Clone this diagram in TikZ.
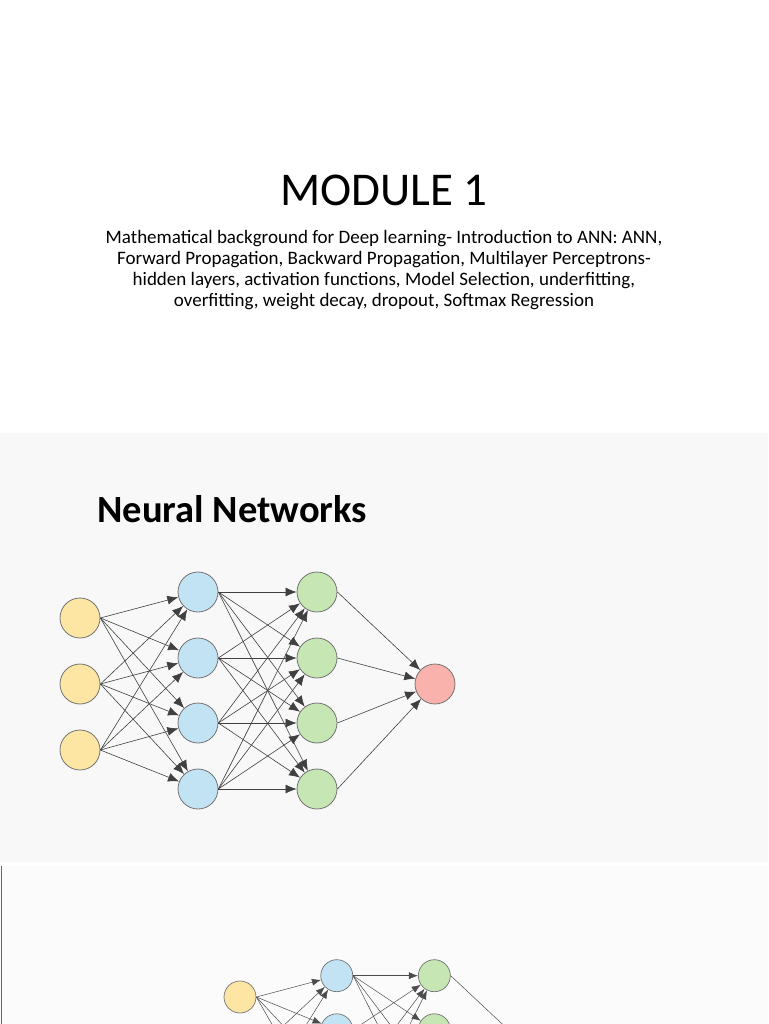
\documentclass[tikz,border=0pt]{standalone}
\usepackage{fontspec}
\setmainfont{Carlito}
\usetikzlibrary{arrows.meta}
\definecolor{inp}{HTML}{FDE6A3}
\definecolor{hid}{HTML}{C2E3F3}
\definecolor{hidb}{HTML}{C6E6B4}
\definecolor{outc}{HTML}{F9B3AC}
\definecolor{slidebg}{HTML}{F8F8F8}
\begin{document}
\begin{tikzpicture}[x=1pt,y=-1pt,
  neuron/.style={circle,draw=black!55,line width=0.8pt,minimum size=40pt,inner sep=0pt},
  conn/.style={draw=black!75,line width=0.6pt,-{Latex[length=11pt,width=9pt]},shorten >=0pt}]
\useasboundingbox (0,0) rectangle (768,1024);
\fill[white] (0,0) rectangle (768,1024);
\fill[slidebg] (0,433) rectangle (768,862);
\fill[slidebg!60!white] (0,866) rectangle (768,1024);
\draw[black!60,line width=1pt] (1,866) -- (1,1024);
\node[font=\fontsize{47}{56}\selectfont] (title) at (384,190) {MODULE 1};
\node[font=\fontsize{19}{21}\selectfont,align=center] (desc) at (384,270)
 {Mathematical background for Deep learning- Introduction to ANN: ANN,\\
  Forward Propagation, Backward Propagation, Multilayer Perceptrons-\\
  hidden layers, activation functions, Model Selection, underfitting,\\
  overfitting, weight decay, dropout, Softmax Regression};
\node[font=\bfseries\fontsize{38.5}{44}\selectfont,anchor=west] (nn) at (94,509) {Neural Networks};
% big network
\foreach \i/\y in {1/618,2/684,3/750} \node[neuron,fill=inp] (a\i) at (80,\y) {};
\foreach \i/\y in {1/592,2/658,3/723,4/789} {
  \node[neuron,fill=hid] (b\i) at (198,\y) {};
  \node[neuron,fill=hidb] (c\i) at (317,\y) {};}
\node[neuron,fill=outc] (d) at (435,684) {};
\foreach \i in {1,2,3} \foreach \j in {1,2,3,4} \draw[conn] (a\i.east) -- (b\j);
\foreach \i in {1,2,3,4} \foreach \j in {1,2,3,4} \draw[conn] (b\i.east) -- (c\j);
\foreach \i in {1,2,3,4} \draw[conn] (c\i.east) -- (d);
% partial small network
\begin{scope}
\clip (0,866) rectangle (768,1024);
\begin{scope}[shift={(240,997)},x=0.82pt,y=-0.82pt,
  sneuron/.style={circle,draw=black!55,line width=0.7pt,minimum size=32pt,inner sep=0pt},
  sconn/.style={draw=black!70,line width=0.5pt,-{Latex[length=9pt,width=7pt]}}]
\foreach \i/\y in {1/0,2/66,3/132} \node[sneuron,fill=inp] (p\i) at (0,\y) {};
\foreach \i/\y in {1/-26,2/40,3/105,4/171} {
  \node[sneuron,fill=hid] (q\i) at (118,\y) {};
  \node[sneuron,fill=hidb] (r\i) at (237,\y) {};}
\node[sneuron,fill=outc] (s) at (355,66) {};
\foreach \i in {1,2,3} \foreach \j in {1,2,3,4} \draw[sconn] (p\i.east) -- (q\j);
\foreach \i in {1,2,3,4} \foreach \j in {1,2,3,4} \draw[sconn] (q\i.east) -- (r\j);
\foreach \i in {1,2,3,4} \draw[sconn] (r\i.east) -- (s);
\end{scope}
\end{scope}
\end{tikzpicture}
\end{document}
